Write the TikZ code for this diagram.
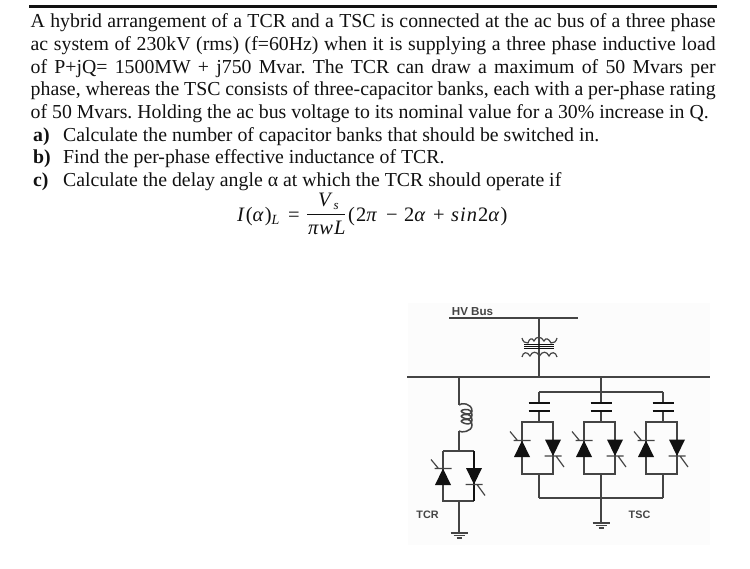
\documentclass[tikz,border=0pt]{standalone}
\usepackage{fontspec}
\setmainfont{Liberation Serif}
\newfontfamily\labelfont{Liberation Sans}
\newfontfamily\eqfont[LetterSpace=5]{Liberation Serif}
\usetikzlibrary{decorations.pathmorphing}
\definecolor{ink}{HTML}{111111}
\definecolor{wire}{HTML}{444444}
\definecolor{panel}{HTML}{FCFCFC}
\frenchspacing
\tikzset{
  para/.style={anchor=base west,inner sep=0pt,text=ink,font=\fontsize{19.8pt}{22pt}\selectfont},
  eqtext/.style={anchor=base west,inner sep=0pt,text=ink,font=\eqfont\fontsize{20.5pt}{22pt}\selectfont},
  wirepath/.style={draw=wire,line width=1.5pt},
  busbar/.style={draw=wire,line width=1.7pt},
  plate/.style={draw=ink,line width=2.4pt},
  gategate/.style={draw=wire,line width=1.2pt},
  circlabel/.style={inner sep=0pt,text=wire,font=\labelfont\bfseries\fontsize{10.8pt}{12pt}\selectfont},
  thyup/.pic={
    \fill[ink] (0,0) -- (8,16.5) -- (-8,16.5) -- cycle;
    \draw[gategate] (-8.5,0) -- (8.5,0) (-4.5,0) -- (-12,-9);
  },
  thydown/.pic={
    \fill[ink] (0,0) -- (8,-16.5) -- (-8,-16.5) -- cycle;
    \draw[gategate] (-8.5,0) -- (8.5,0) (3,0) -- (11,11);
  },
  groundsym/.pic={
    \draw[gategate] (-8.5,0) -- (8.5,0) (-5.5,2.5) -- (5.5,2.5) (-2.5,5) -- (2.5,5);
  }
}
\newcommand{\fullline}[3]{\node[para] (#1) at (30,#2) {\makebox[0pt][l]{\makebox[685pt][s]{#3}}};}
\begin{document}
\begin{tikzpicture}[x=1pt,y=-1pt]
\useasboundingbox (0,0) rectangle (750,569);
\fill[panel] (408,303) rectangle (710,545);
% top rule
\coordinate (ruleL) at (29,6.5);
\coordinate (ruleR) at (717,6.5);
\draw[ink,line width=2.2pt] (ruleL) -- (ruleR);
% text
\fullline{t1}{27.5}{A hybrid arrangement of a TCR and a TSC is connected at the ac bus of a three phase}
\fullline{t2}{50.5}{ac system of 230kV (rms) (f=60Hz) when it is supplying a three phase inductive load}
\fullline{t3}{73.5}{of P+jQ= 1500MW + j750 Mvar. The TCR can draw a maximum of 50 Mvars per}
\fullline{t4}{96}{phase, whereas the TSC consists of three-capacitor banks, each with a per-phase rating}
\node[para] (t5) at (30,118.5) {\makebox[0pt][l]{\makebox[678pt][s]{of 50 Mvars. Holding the ac bus voltage to its nominal value for a 30\% increase in Q.}}};
\node[para] (qa) at (33,142) {\textbf{a)}};
\node[para] (qat) at (63,142) {Calculate the number of capacitor banks that should be switched in.};
\node[para] (qb) at (33,164) {\textbf{b)}};
\node[para] (qbt) at (63,164) {Find the per-phase effective inductance of TCR.};
\node[para] (qc) at (33,187) {\textbf{c)}};
\node[para] (qct) at (63,187) {Calculate the delay angle α at which the TCR should operate if};
% formula
\node[eqtext] (eqL) at (237,222) {\textit{I}(\textit{α})\raisebox{-3pt}{\fontsize{14pt}{14pt}\selectfont\textit{L}}};
\node[eqtext] (eqE) at (288,222) {=};
\node[eqtext] (eqN) at (318,207) {\textit{V}\raisebox{-3pt}{\fontsize{13pt}{13pt}\selectfont\textit{s}}};
\node[eqtext] (eqD) at (308,235) {\textit{πwL}};
\draw[ink,line width=1pt] (307,214.5) -- (345,214.5);
\node[eqtext] (eqR1) at (348,222) {(2\textit{π}};
\node[eqtext] (eqR2) at (386,222) {−};
\node[eqtext] (eqR3) at (404,222) {2\textit{α}};
\node[eqtext] (eqR4) at (433,222) {+};
\node[eqtext] (eqR5) at (451,222) {\textit{sin}2\textit{α})};
% buses
\coordinate (hvL) at (449,318); \coordinate (hvR) at (578,318); \coordinate (hvT) at (539,318);
\coordinate (busL) at (407,377); \coordinate (busR) at (710,377);
\coordinate (busX) at (539,377); \coordinate (busTCR) at (459,377); \coordinate (busTSC) at (601,377);
\draw[busbar] (hvL) -- (hvR);
\draw[busbar] (busL) -- (busR);
\node[circlabel,anchor=base,font=\labelfont\bfseries\fontsize{11.6pt}{12pt}\selectfont] (hvlabel) at (472.5,316) {HV Bus};
% transformer
\draw[draw=wire,line width=1.1pt] (hvT) -- (busX);
\draw[gategate] (522,338) .. controls (523,342) and (525,343) .. (528,343)
  .. controls (529,339) and (532,337) .. (534,341)
  .. controls (536,336) and (541,336) .. (544,341)
  .. controls (546,337) and (549,339) .. (551,343)
  .. controls (554,343) and (556,342) .. (557,338);
\draw[gategate] (522,357) .. controls (523,352) and (527,351) .. (530,356)
  .. controls (532,351) and (537,351) .. (539.5,356)
  .. controls (542,351) and (547,351) .. (549,356)
  .. controls (551,351) and (556,352) .. (557,357);
\draw[draw=ink,line width=1pt] (524,344.6) -- (554,344.6) (524,346.7) -- (554,346.7) (524,348.8) -- (554,348.8);
% TCR
\coordinate (coilT) at (459,405); \coordinate (coilB) at (459,431);
\coordinate (tcrT) at (459,451); \coordinate (tcrB) at (459,501);
\coordinate (tcrG) at (459,533);
\coordinate (tcrTL) at (443,451); \coordinate (tcrTR) at (474,451);
\coordinate (tcrBL) at (443,501); \coordinate (tcrBR) at (474,501);
\draw[wirepath] (busTCR) -- (coilT);
\draw[wirepath] (coilT) .. controls (461,402.5) and (472,403) .. (472,411)
  .. controls (472,414) and (468,414.5) .. (465,413.5)
  .. controls (460,412) and (460,410) .. (465,409.5)
  .. controls (470,409) and (472,412) .. (472,415)
  .. controls (472,419) and (468,419.5) .. (465,418.5)
  .. controls (460,417) and (460,415) .. (465,414.5)
  .. controls (470,414) and (472,417) .. (472,420)
  .. controls (472,424) and (468,424.5) .. (465,423.5)
  .. controls (460,422) and (460,420) .. (465,419.5)
  .. controls (470,419) and (472,422) .. (472,425)
  .. controls (472,432) and (461,433) .. (coilB);
\draw[wirepath] (coilB) -- (tcrT);
\draw[wirepath] (tcrTL) -- (tcrBL) -- (tcrBR);
\draw[wirepath] (tcrTL) -- (tcrTR);
\draw[draw=ink,line width=2.2pt] (tcrTR) -- (tcrBR);
\draw[wirepath] (tcrB) -- (tcrG);
\pic at (443,468.5) {thyup};
\pic at (474,484.5) {thydown};
\pic at (tcrG) {groundsym};
\node[circlabel,anchor=center] (tcrlabel) at (427.5,515) {TCR};
% TSC
\coordinate (tscTopL) at (539,392); \coordinate (tscTopR) at (663,392); \coordinate (tscTopM) at (601,392);
\coordinate (tscBotL) at (539,498); \coordinate (tscBotR) at (663,498); \coordinate (tscBotM) at (601,498);
\coordinate (tscG) at (601,523);
\draw[wirepath] (busTSC) -- (tscTopM);
\draw[wirepath] (tscTopL) -- (tscTopR);
\draw[wirepath] (tscBotL) -- (tscBotR);
\draw[wirepath] (tscBotM) -- (tscG);
\pic at (tscG) {groundsym};
\foreach \n/\cx/\lx/\rx in {A/539/522/553,B/601/584/615,C/663/646/677}{
  \coordinate (cap\n T) at (\cx,403);
  \coordinate (cap\n B) at (\cx,411);
  \coordinate (leg\n T) at (\cx,422);
  \coordinate (leg\n B) at (\cx,474);
  \draw[wirepath] (\cx,392) -- (cap\n T);
  \draw[wirepath] (cap\n B) -- (leg\n T);
  \draw[plate] (\cx-10.5,403) -- (\cx+10.5,403);
  \draw[plate] (\cx-10.5,411) -- (\cx+10.5,411);
  \draw[wirepath] (\lx,422) rectangle (\rx,474);
  \draw[wirepath] (leg\n B) -- (\cx,498);
  \pic at (\lx,440.5) {thyup};
  \pic at (\rx,456) {thydown};
}
\node[circlabel,anchor=center] (tsclabel) at (639.5,515) {TSC};
\end{tikzpicture}
\end{document}
